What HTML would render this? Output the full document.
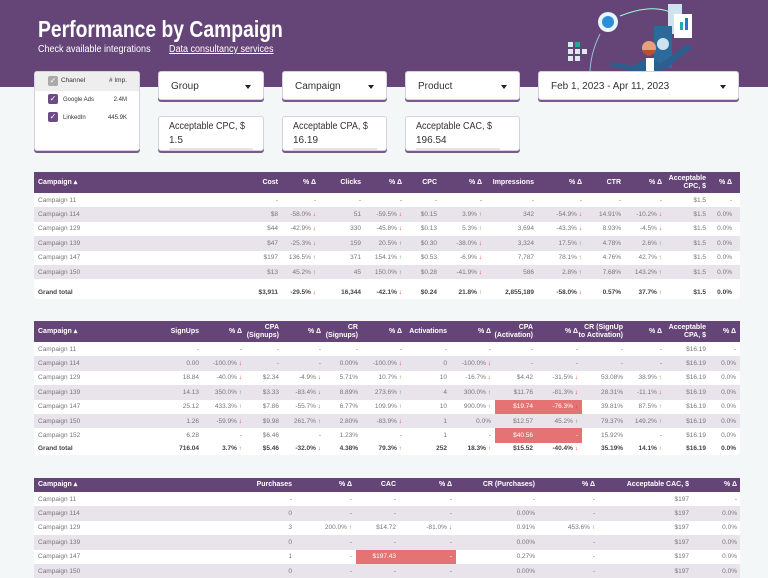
<!DOCTYPE html>
<html><head><meta charset="utf-8">
<style>
*{box-sizing:border-box;margin:0;padding:0}
body{width:768px;height:577px;overflow:hidden;background:#f3f7f8;font-family:"Liberation Sans",sans-serif;position:relative}
.band{position:absolute;left:0;top:0;width:768px;height:87px;background:#654578}
.title{position:absolute;left:38px;top:16px;color:#fff;font-size:23px;font-weight:bold;transform:scaleX(0.84);transform-origin:0 0;white-space:nowrap}
.sub{position:absolute;top:44px;color:#fff;font-size:10px;transform:scaleX(0.9);transform-origin:0 0;white-space:nowrap}
.box{position:absolute;background:#fff;border:1px solid #d8d0de;border-radius:3px;box-shadow:0 2px 0 #7a5a8c}
.dd{font-size:10px;color:#333;padding:9px 12px;white-space:nowrap}
.dd::after{content:"";position:absolute;right:12px;top:13px;border:3px solid transparent;border-top:4px solid #222}
.inp{font-size:10px;color:#333;padding:4px 10px;white-space:nowrap}
.inp .t{transform:scaleX(0.9);transform-origin:0 0}
.inp .v{margin-top:3px;border-bottom:2px solid #e4e4e4;padding-bottom:2px;width:84px}
.tbl{position:absolute;left:34px;width:706px;background:#fff;border-radius:3px}
.hd{position:absolute;left:0;width:706px;background:#654578}
.c{position:absolute;font-size:6.5px;color:#777;white-space:nowrap;text-align:right;line-height:8px}
.hc{color:#fff;font-weight:bold;font-size:7px}
.row{position:absolute;left:0;width:706px;height:14.4px}
.alt{background:#e9e4ec}
.dn{color:#e53935}.up{color:#43a047}
.red{position:absolute;background:#e57373}
.b{font-weight:bold;color:#444}
</style></head><body>
<div class="band"></div>
<div class="title">Performance by Campaign</div>
<div class="sub" style="left:38px">Check available integrations</div>
<div class="sub" style="left:169px;text-decoration:underline">Data consultancy services</div>
<svg style="position:absolute;left:560px;top:4px" width="170" height="84">
<rect x="108" y="0" width="14" height="30" fill="#cfe3ef"/><rect x="114" y="10" width="18" height="24" fill="#fff"/><rect x="120" y="18" width="3" height="8" fill="#2aa"/><rect x="125" y="14" width="3" height="12" fill="#27c"/>
<rect x="94" y="22" width="18" height="42" fill="#2b6a9a"/><circle cx="103" cy="40" r="6" fill="#cfe3ef"/>
<circle cx="48" cy="18" r="10" fill="#e8f4fb"/><circle cx="48" cy="18" r="6" fill="#2a8fd8"/>
<g fill="#dfe9f0"><rect x="8" y="38" width="5" height="5"/><rect x="15" y="38" width="5" height="5"/><rect x="8" y="45" width="5" height="5"/><rect x="15" y="45" width="5" height="5"/><rect x="22" y="45" width="5" height="5"/><rect x="8" y="52" width="5" height="5"/><rect x="15" y="52" width="5" height="5"/></g>
<rect x="15" y="38" width="5" height="5" fill="#2a9"/>
<path d="M60 12 Q90 0 110 8" stroke="#9fd" fill="none"/><path d="M40 30 Q30 50 30 70" stroke="#9bd" fill="none"/>
<path d="M72 84 L76 60 Q90 50 100 60 L108 84Z" fill="#2b5f8e"/><rect x="86" y="54" width="8" height="30" fill="#fff"/>
<circle cx="89" cy="44" r="7" fill="#e8a07a"/><path d="M82 46 Q89 58 96 46Z" fill="#b5522f"/>
<path d="M100 60 L128 40 L132 44 L104 66Z" fill="#2b5f8e"/><path d="M76 62 L50 58 L50 62 L78 68Z" fill="#2b5f8e"/>
</svg>

<div class="box" style="left:34px;top:71px;width:106px;height:80px">
 <div style="position:absolute;left:0;top:0;width:104px;height:19px;background:#eee"></div>
 <div style="position:absolute;left:13px;top:4px;width:10px;height:10px;background:#aaa;border-radius:2px;color:#fff;font-size:8px;line-height:10px;text-align:center">✓</div>
 <div class="c" style="left:26px;top:5px;color:#333;text-align:left">Channel</div>
 <div class="c" style="right:12px;top:5px;color:#333"># Imp.</div>
 <div style="position:absolute;left:13px;top:22px;width:10px;height:10px;background:#6d4c86;border-radius:2px;color:#fff;font-size:8px;line-height:10px;text-align:center">✓</div>
 <div class="c" style="left:28px;top:24px;color:#333;text-align:left;font-size:6px">Google Ads</div>
 <div class="c" style="right:12px;top:24px;color:#333;font-size:6px">2.4M</div>
 <div style="position:absolute;left:13px;top:40px;width:10px;height:10px;background:#6d4c86;border-radius:2px;color:#fff;font-size:8px;line-height:10px;text-align:center">✓</div>
 <div class="c" style="left:28px;top:42px;color:#333;text-align:left;font-size:6px">LinkedIn</div>
 <div class="c" style="right:12px;top:42px;color:#333;font-size:6px">445.9K</div>
</div>
<div class="box dd" style="left:158px;top:71px;width:106px;height:29px">Group</div>
<div class="box dd" style="left:282px;top:71px;width:105px;height:29px">Campaign</div>
<div class="box dd" style="left:405px;top:71px;width:115px;height:29px">Product</div>
<div class="box dd" style="left:538px;top:71px;width:201px;height:29px">Feb 1, 2023 - Apr 11, 2023</div>
<div class="box inp" style="left:158px;top:116px;width:106px;height:35px"><div class="t">Acceptable CPC, $</div><div class="v">1.5</div></div>
<div class="box inp" style="left:282px;top:116px;width:105px;height:35px"><div class="t">Acceptable CPA, $</div><div class="v">16.19</div></div>
<div class="box inp" style="left:405px;top:116px;width:115px;height:35px"><div class="t">Acceptable CAC, $</div><div class="v">196.54</div></div>

<div id="t1" class="tbl" style="top:172px;height:127px"></div>
<div id="t2" class="tbl" style="top:321px;height:134px"></div>
<div id="t3" class="tbl" style="top:478px;height:99px"></div>

<script>
const O=34;
function build(id,hh,cols,heads,rows,total,reds){
 const t=document.getElementById(id);
 const h=document.createElement('div');h.className='hd';h.style.top='0';h.style.height=hh+'px';
 
 
 t.appendChild(h);
 heads.forEach((tx,i)=>{const d=document.createElement('div');d.className='c hc';
  
  
  const two=tx.includes('|');d.innerHTML=tx.replace('|','<br>');
  d.style.top=(two?hh/2-8:hh/2-4)+'px';
  if(i==0){d.style.left='4px';d.style.textAlign='left';}else d.style.right=(740-cols[i-1])+'px';
  h.appendChild(d);});
 let y=hh;
 rows.forEach((r,ri)=>{const row=document.createElement('div');row.className='row'+(ri%2?' alt':'');row.style.top=y+'px';
  
  
  t.appendChild(row);
  (reds[ri]||[]).forEach(ci=>{const rr=document.createElement('div');rr.className='red';
   const l=ci==1?cols[0]+10:cols[ci-2]+4;rr.style.left=(l-O)+'px';rr.style.width=(cols[ci-1]-l+4)+'px';rr.style.top='0';rr.style.height='14.4px';
   
   
   row.appendChild(rr);});
  r.forEach((v,i)=>cell(row,v,i,cols,false,(reds[ri]||[]).includes(i)));
  y+=14.4;});
 if(total){const row=document.createElement('div');row.className='row';row.style.top=(t.offsetHeight-14)+'px';
  
  
  t.appendChild(row);total.forEach((v,i)=>cell(row,v,i,cols,true,false));}
}
function cell(row,v,i,cols,b,red){const d=document.createElement('div');d.className='c'+(b?' b':'');d.style.top='3.5px';
 let s=v;
 if(v.endsWith('v'))s=v.slice(0,-1)+' <span class="dn">↓</span>';
 else if(v.endsWith('^'))s=v.slice(0,-1)+' <span class="up">↑</span>';
 d.innerHTML=s;if(red)d.style.color='#fff';
 if(i==0){d.style.left='4px';d.style.textAlign='left';}else d.style.right=(740-cols[i-1])+'px';
 row.appendChild(d);}
build('t1',21,[278,316,361,402,437,482,534,582,621,662,706,732],
 ['Campaign ▴','Cost','% Δ','Clicks','% Δ','CPC','% Δ','Impressions','% Δ','CTR','% Δ','Acceptable|CPC, $','% Δ'],
 [['Campaign 11','-','-','-','-','-','-','-','-','-','-','$1.5','-'],
  ['Campaign 114','$8','-58.0%v','51','-59.5%v','$0.15','3.9%^','342','-54.9%v','14.91%','-10.2%v','$1.5','0.0%'],
  ['Campaign 129','$44','-42.9%v','330','-45.8%v','$0.13','5.3%^','3,694','-43.3%v','8.93%','-4.5%v','$1.5','0.0%'],
  ['Campaign 139','$47','-25.3%v','159','20.5%^','$0.30','-38.0%v','3,324','17.5%^','4.78%','2.6%^','$1.5','0.0%'],
  ['Campaign 147','$197','136.5%^','371','154.1%^','$0.53','-6.9%v','7,787','78.1%^','4.76%','42.7%^','$1.5','0.0%'],
  ['Campaign 150','$13','45.2%^','45','150.0%^','$0.28','-41.9%v','586','2.8%^','7.68%','143.2%^','$1.5','0.0%']],
 ['Grand total','$3,911','-29.5%v','16,344','-42.1%v','$0.24','21.8%^','2,855,189','-58.0%v','0.57%','37.7%^','$1.5','0.0%'],{});
build('t2',21,[199,242,279,321,358,402,447,491,533,578,623,662,706,736],
 ['Campaign ▴','SignUps','% Δ','CPA|(Signups)','% Δ','CR|(Signups)','% Δ','Activations','% Δ','CPA|(Activation)','% Δ','CR (SignUp|to Activation)','% Δ','Acceptable|CPA, $','% Δ'],
 [['Campaign 11','-','-','-','-','-','-','-','-','-','-','-','-','$16.19','-'],
  ['Campaign 114','0.00','-100.0%v','-','-','0.00%','-100.0%v','0','-100.0%v','-','-','-','-','$16.19','0.0%'],
  ['Campaign 129','18.84','-40.0%v','$2.34','-4.9%v','5.71%','10.7%^','10','-16.7%v','$4.42','-31.5%v','53.08%','38.9%^','$16.19','0.0%'],
  ['Campaign 139','14.13','350.0%^','$3.33','-83.4%v','8.89%','273.6%^','4','300.0%^','$11.76','-81.3%v','28.31%','-11.1%v','$16.19','0.0%'],
  ['Campaign 147','25.12','433.3%^','$7.86','-55.7%v','6.77%','109.9%^','10','900.0%^','$19.74','-76.3%v','39.81%','87.5%^','$16.19','0.0%'],
  ['Campaign 150','1.26','-59.9%v','$9.98','261.7%^','2.80%','-83.9%v','1','0.0%','$12.57','45.2%^','79.37%','149.2%^','$16.19','0.0%'],
  ['Campaign 152','6.28','-','$6.46','-','1.23%','-','1','-','$40.56','-','15.92%','-','$16.19','0.0%']],
 ['Grand total','716.04','3.7%^','$5.46','-32.0%v','4.38%','79.3%^','252','18.3%^','$15.52','-40.4%v','35.19%','14.1%^','$16.19','0.0%'],
 {4:[9,10],6:[9,10]});
build('t3',14,[292,352,396,452,535,595,689,737],
 ['Campaign ▴','Purchases','% Δ','CAC','% Δ','CR (Purchases)','% Δ','Acceptable CAC, $','% Δ'],
 [['Campaign 11','-','-','-','-','-','-','$197','-'],
  ['Campaign 114','0','-','-','-','0.00%','-','$197','0.0%'],
  ['Campaign 129','3','200.0%^','$14.72','-81.0%v','0.91%','453.6%^','$197','0.0%'],
  ['Campaign 139','0','-','-','-','0.00%','-','$197','0.0%'],
  ['Campaign 147','1','-','$197.43','-','0.27%','-','$197','0.0%'],
  ['Campaign 150','0','-','-','-','0.00%','-','$197','0.0%']],
 null,{4:[3,4]});
</script>
</body></html>
